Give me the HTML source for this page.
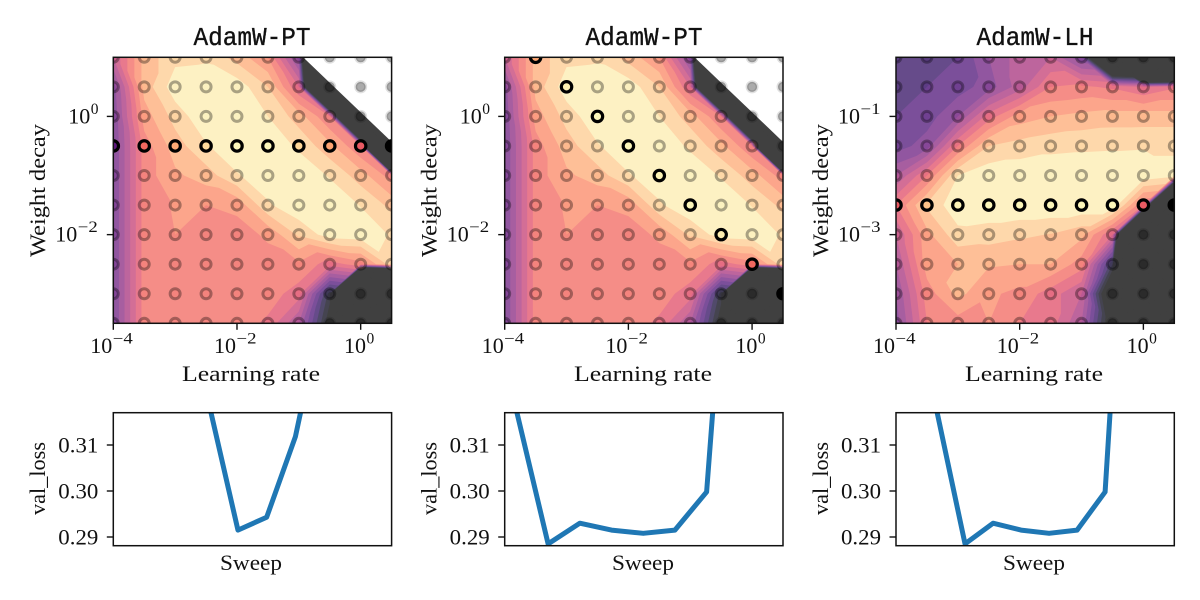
<!DOCTYPE html>
<html>
<head>
<meta charset="utf-8">
<title>Hyperparameter sweeps</title>
<style>
  html, body { margin: 0; padding: 0; background: #fff; }
  svg { display: block; }
  text { font-family: "Liberation Serif", serif; fill: #111; }
  .title { font-family: "Liberation Mono", monospace; font-size: 26px; text-anchor: middle; stroke: #111; stroke-width: 0.35px; }
  .label { font-size: 22px; text-anchor: middle; }
</style>
</head>
<body>
<svg id="figure" xmlns="http://www.w3.org/2000/svg" width="1200" height="600" viewBox="0 0 1200 600">
  <defs id="defs"></defs>
  <g id="plots"></g>
  <text class="title" x="252" y="45" textLength="117" lengthAdjust="spacingAndGlyphs">AdamW-PT</text>
  <text class="title" x="644" y="45" textLength="117" lengthAdjust="spacingAndGlyphs">AdamW-PT</text>
  <text class="title" x="1035" y="45" textLength="117" lengthAdjust="spacingAndGlyphs">AdamW-LH</text>

  <text class="label" x="251" y="381" textLength="138" lengthAdjust="spacingAndGlyphs">Learning rate</text>
  <text class="label" x="643" y="381" textLength="138" lengthAdjust="spacingAndGlyphs">Learning rate</text>
  <text class="label" x="1034" y="381" textLength="138" lengthAdjust="spacingAndGlyphs">Learning rate</text>

  <text class="label" transform="translate(45 190.5) rotate(-90)" textLength="133" lengthAdjust="spacingAndGlyphs">Weight decay</text>
  <text class="label" transform="translate(436.5 190.5) rotate(-90)" textLength="133" lengthAdjust="spacingAndGlyphs">Weight decay</text>
  <text class="label" transform="translate(828 190.5) rotate(-90)" textLength="133" lengthAdjust="spacingAndGlyphs">Weight decay</text>

  <text class="label" x="251" y="570" textLength="62" lengthAdjust="spacingAndGlyphs">Sweep</text>
  <text class="label" x="643" y="570" textLength="62" lengthAdjust="spacingAndGlyphs">Sweep</text>
  <text class="label" x="1034" y="570" textLength="62" lengthAdjust="spacingAndGlyphs">Sweep</text>

  <text class="label" transform="translate(45 478.5) rotate(-90)" textLength="73" lengthAdjust="spacingAndGlyphs">val_loss</text>
  <text class="label" transform="translate(436.5 478.5) rotate(-90)" textLength="73" lengthAdjust="spacingAndGlyphs">val_loss</text>
  <text class="label" transform="translate(828 478.5) rotate(-90)" textLength="73" lengthAdjust="spacingAndGlyphs">val_loss</text>
</svg>

<script>
// ---- categories ----
const learningRateExps = [-4, -3.5, -3, -2.5, -2, -1.5, -1, -0.5, 0, 0.5];
const weightDecayExpsPT = [1, 0.5, 0, -0.5, -1, -1.5, -2, -2.5, -3, -3.5];
const weightDecayExpsLH = [0, -0.5, -1, -1.5, -2, -2.5, -3, -3.5, -4, -4.5];

// ---- tick labels ----
const xTickExps = [-4, -2, 0];
const yTickExpsPT = [0, -2];
const yTickExpsLH = [-1, -3];
const lossTicks = [0.31, 0.30, 0.29];

// ---- contour values: loss expressed in contour-level units, rows from top; null = diverged ----
const lossGridPT = [
  [7.0, 2.6, 1.3, 1.2, 2.4, 4.0, 9.5, null, null, null],
  [9.5, 2.6, 0.4, 0.2, 0.4, 2.0, 6.0, 50, null, null],
  [9.8, 3.5, 1.6, 0.2, 0.2, 1.0, 2.5, 5.0, 50, null],
  [10, 4.5, 2.5, 1.1, 0.2, 0.2, 1.2, 2.7, 5.0, 90],
  [10, 4.5, 3.2, 2.5, 1.1, 0.3, 0.2, 1.1, 2.5, 4.5],
  [10, 4.5, 3.9, 4.0, 3.7, 1.15, 0.2, 0.2, 1.05, 2.3],
  [10, 4.5, 4.0, 4.5, 4.5, 3.8, 1.8, 0.5, 0.3, 1.1],
  [10, 4.5, 4.5, 4.5, 4.5, 4.5, 4.2, 5.5, 4.5, 1.5],
  [10, 4.5, 4.5, 4.5, 4.5, 4.5, 5.5, 13.5, 90, 90],
  [10, 4.5, 4.5, 4.5, 4.5, 5.2, 8.0, 15, 100, 100]
];
const lossGridLH = [
  [11.5, 11.5, 11, 9, 7.5, 7, 10, 30, 60, 60],
  [11.5, 11, 10.5, 9.5, 7.5, 5, 4.8, 5.2, 6.0, 5.2],
  [11, 10.5, 9, 5.5, 3.5, 3, 2.7, 2.5, 2.5, 2.5],
  [10.5, 9.5, 5, 2, 1.6, 1.3, 1.2, 1.15, 1.1, 1.1],
  [8, 5, 1.0, 0.3, 0.25, 0.25, 0.25, 0.25, 0.3, 0.8],
  [5, 1.8, 0.3, 0.2, 0.2, 0.2, 0.2, 0.2, 5, 60],
  [7, 3.3, 1.32, 1.53, 1.8, 2.05, 2.7, 6, 60, 60],
  [8, 3.5, 3, 2.9, 3, 3, 4.5, 13, 80, 80],
  [9, 4.5, 2.7, 3.8, 4.3, 5.5, 7, 18, 80, 80],
  [9.5, 5, 4.5, 4, 5, 5.5, 8, 16, 80, 80]
];
const levelCount = [14];

// ---- highlighted sweep paths, [column, row] ----
const sweepPathA = [[0,3],[1,3],[2,3],[3,3],[4,3],[5,3],[6,3],[7,3],[8,3],[9,3]];
const sweepPathB = [[1,0],[2,1],[3,2],[4,3],[5,4],[6,5],[7,6],[8,7],[9,8]];
const sweepPathC = [[0,5],[1,5],[2,5],[3,5],[4,5],[5,5],[6,5],[7,5],[8,5],[9,5]];

// ---- sweep series: val_loss per sweep step ----
const sweepStepsA = [0, 1, 2, 3, 4, 5, 6, 7, 8];
const sweepLossA = [0.40, 0.37, 0.345, 0.3187, 0.2915, 0.2943, 0.3118, 0.341, 0.37];
const sweepStepsB = [0, 1, 2, 3, 4, 5, 6, 7, 8, 9];
const sweepLossB = [0.36, 0.3175, 0.2885, 0.293, 0.2915, 0.2908, 0.2915, 0.2998, 0.39, 0.45];
const sweepStepsC = [0, 1, 2, 3, 4, 5, 6, 7, 8, 9, 10];
const sweepLossC = [0.37, 0.345, 0.3172, 0.2885, 0.293, 0.2915, 0.2908, 0.2915, 0.2998, 0.397, 0.45];

const magmaStops = [
  [0,0,4],[20,14,54],[59,15,112],[100,26,128],[140,41,129],
  [183,55,121],[222,73,104],[247,112,92],[254,159,109],[254,207,146],[252,253,191]
];

function magma(t) {
  const c = Math.max(0, Math.min(1, t)) * 10;
  const i = Math.min(9, Math.floor(c));
  const f = c - i;
  return magmaStops[i].map(function (v, j) { return v + (magmaStops[i + 1][j] - v) * f; });
}
function rgb(c) { return 'rgb(' + c.map(function (v) { return Math.round(v); }).join(',') + ')'; }
function blendWhite(c, a) { return c.map(function (v) { return v * a + 255 * (1 - a); }); }

const NS = 'http://www.w3.org/2000/svg';
function make(tag, parent, attrs) {
  const e = document.createElementNS(NS, tag);
  for (const k in attrs) e.setAttribute(k, attrs[k]);
  parent.appendChild(e);
  return e;
}

const plots = document.getElementById('plots');
const defs = document.getElementById('defs');
const AX_W = 278.3;

// clip a triangle of {x,y,z} to z <= level
function clipTriangle(tri, level) {
  const out = [];
  for (let i = 0; i < tri.length; i++) {
    const a = tri[i], b = tri[(i + 1) % tri.length];
    const ain = a.z <= level, bin = b.z <= level;
    if (ain) out.push(a);
    if (ain !== bin) {
      const f = (level - a.z) / (b.z - a.z);
      out.push({ x: a.x + (b.x - a.x) * f, y: a.y + (b.y - a.y) * f, z: level });
    }
  }
  return out;
}

// each cell is split along the diagonal whose end values agree best, so contours stay straight
function triangulate(grid, xs, ys) {
  const tris = [];
  for (let r = 0; r < grid.length - 1; r++) {
    for (let c = 0; c < grid[r].length - 1; c++) {
      const corners = [[c, r], [c + 1, r], [c + 1, r + 1], [c, r + 1]]
        .filter(function (p) { return grid[p[1]][p[0]] !== null; })
        .map(function (p) { return { x: xs(p[0]), y: ys(p[1]), z: grid[p[1]][p[0]] }; });
      if (corners.length === 3) {
        tris.push(corners);
      } else if (corners.length === 4) {
        const q = corners;
        if (Math.abs(q[0].z - q[2].z) <= Math.abs(q[1].z - q[3].z)) {
          tris.push([q[0], q[1], q[2]]);
          tris.push([q[0], q[2], q[3]]);
        } else {
          tris.push([q[0], q[1], q[3]]);
          tris.push([q[1], q[2], q[3]]);
        }
      }
    }
  }
  return tris;
}

function polyPath(poly) {
  return 'M' + poly.map(function (p) { return p.x.toFixed(2) + ' ' + p.y.toFixed(2); }).join('L') + 'Z';
}

function drawHeatPanel(id, left, top, yExps, grid, path) {
  const topExp = yExps[0];
  const xAxis = function (exp) { return left + (exp + 4) / 4.5 * AX_W; };
  const yAxis = function (exp) { return top + (topExp - exp) / 4.5 * 266; };
  const colX = function (c) { return xAxis(learningRateExps[c]); };
  const rowY = function (r) { return yAxis(yExps[r]); };

  const clip = make('clipPath', defs, { id: 'clip-' + id });
  make('rect', clip, { x: left, y: top, width: AX_W, height: 266 });

  const g = make('g', plots, { 'clip-path': 'url(#clip-' + id + ')' });
  
  

  const tris = triangulate(grid, colX, rowY);
  const N = levelCount[0];

  const base = make('path', g, {
    d: tris.map(polyPath).join(''),
    fill: '#404040', stroke: '#404040', 'stroke-width': 6, 'stroke-linejoin': 'round'
  });
  
  

  for (let k = N - 1; k >= 0; k--) {
    let d = '';
    tris.forEach(function (t) {
      const poly = clipTriangle(t, k + 1);
      if (poly.length >= 3) d += polyPath(poly);
    });
    const band = make('path', g, { d: d, fill: rgb(blendWhite(magma(1 - (k + 0.5) / N), 0.75)) });
    
    
  }

  const onPath = {};
  path.forEach(function (p) { onPath[p[0] + ',' + p[1]] = true; });
  grid.forEach(function (row, r) {
    row.forEach(function (z, c) {
      const hi = onPath[c + ',' + r];
      const over = z === null || z >= N;
      const attrs = { cx: colX(c), cy: rowY(r), r: 5, 'stroke-width': 3, stroke: '#000' };
      if (hi) {
        attrs.r = 5.2;
        attrs['stroke-width'] = 3.2;
        attrs.fill = over ? '#000' : rgb(magma(1 - z / N));
      } else if (over) {
        attrs.fill = '#000';
        attrs['fill-opacity'] = 0.33;
        attrs['stroke-opacity'] = 0.12;
      } else {
        attrs.fill = rgb(magma(1 - z / N));
        attrs['fill-opacity'] = 0.25;
        attrs['stroke-opacity'] = 0.33;
      }
      const dot = make('circle', g, attrs);
      
      
    });
  });

  const frame = make('rect', plots, { x: left, y: top, width: AX_W, height: 266, fill: 'none', stroke: '#111', 'stroke-width': 1.5 });
  
  

  xTickExps.forEach(function (exp) {
    const x = xAxis(exp);
    const tick = make('line', plots, { x1: x, x2: x, y1: top + 266, y2: top + 272.5, stroke: '#111', 'stroke-width': 1.4 });
    
    
    drawPower(exp, x - (exp < 0 ? 23 : 16.7), top + 295.5);
  });
  const yTicks = topExp === 1 ? yTickExpsPT : yTickExpsLH;
  yTicks.forEach(function (exp) {
    const y = yAxis(exp);
    const tick = make('line', plots, { x1: left - 6.5, x2: left, y1: y, y2: y, stroke: '#111', 'stroke-width': 1.4 });
    
    
    const w = exp < 0 ? 43 : 30;
    drawPower(exp, left - 15 - w, y + 7);
  });
}

function drawPower(exp, x, y) {
  const base = make('text', plots, { x: x, y: y, 'font-size': 22, textLength: 22, lengthAdjust: 'spacingAndGlyphs' });
  base.textContent = '10';
  
  
  const sup = make('text', plots, { x: x + 22.5, y: y - 9.5, 'font-size': 15.5 });
  sup.textContent = exp < 0 ? '\u2212' + Math.abs(exp) : String(exp);
  if (exp < 0) {
    sup.setAttribute('textLength', 20);
    sup.setAttribute('lengthAdjust', 'spacingAndGlyphs');
  }
  
  
}

function drawSweepPanel(id, left, steps, losses, domain) {
  const top = 412.7, height = 133;
  const xAxis = function (s) { return left + (s - domain[0]) / (domain[1] - domain[0]) * AX_W; };
  const yAxis = function (v) { return 491 - (v - 0.30) * 4600; };

  const clip = make('clipPath', defs, { id: 'clip-sweep-' + id });
  make('rect', clip, { x: left, y: top, width: AX_W, height: height });

  const pts = steps.map(function (s, i) { return xAxis(s).toFixed(2) + ',' + yAxis(losses[i]).toFixed(2); }).join(' ');
  const line = make('polyline', plots, {
    points: pts, fill: 'none', stroke: '#1f77b4', 'stroke-width': 5,
    'stroke-linejoin': 'round', 'clip-path': 'url(#clip-sweep-' + id + ')'
  });
  
  

  const frame = make('rect', plots, { x: left, y: top, width: AX_W, height: height, fill: 'none', stroke: '#111', 'stroke-width': 1.5 });
  
  

  lossTicks.forEach(function (v) {
    const y = yAxis(v);
    const tick = make('line', plots, { x1: left - 6.5, x2: left, y1: y, y2: y, stroke: '#111', 'stroke-width': 1.4 });
    
    
    const label = make('text', plots, { x: left - 55, y: y + 7.3, 'font-size': 22, textLength: 40, lengthAdjust: 'spacingAndGlyphs' });
    label.textContent = v.toFixed(2);
    
    
  });
}

drawHeatPanel('a', 113.3, 57.3, weightDecayExpsPT, lossGridPT, sweepPathA);
drawHeatPanel('b', 504.7, 57.3, weightDecayExpsPT, lossGridPT, sweepPathB);
drawHeatPanel('c', 896, 57.3, weightDecayExpsLH, lossGridLH, sweepPathC);

drawSweepPanel('a', 113.3, sweepStepsA, sweepLossA, [-0.34, 9.35]);
drawSweepPanel('b', 504.7, sweepStepsB, sweepLossB, [0.63, 9.41]);
drawSweepPanel('c', 896, sweepStepsC, sweepLossC, [0.536, 10.47]);
</script>
</body>
</html>
